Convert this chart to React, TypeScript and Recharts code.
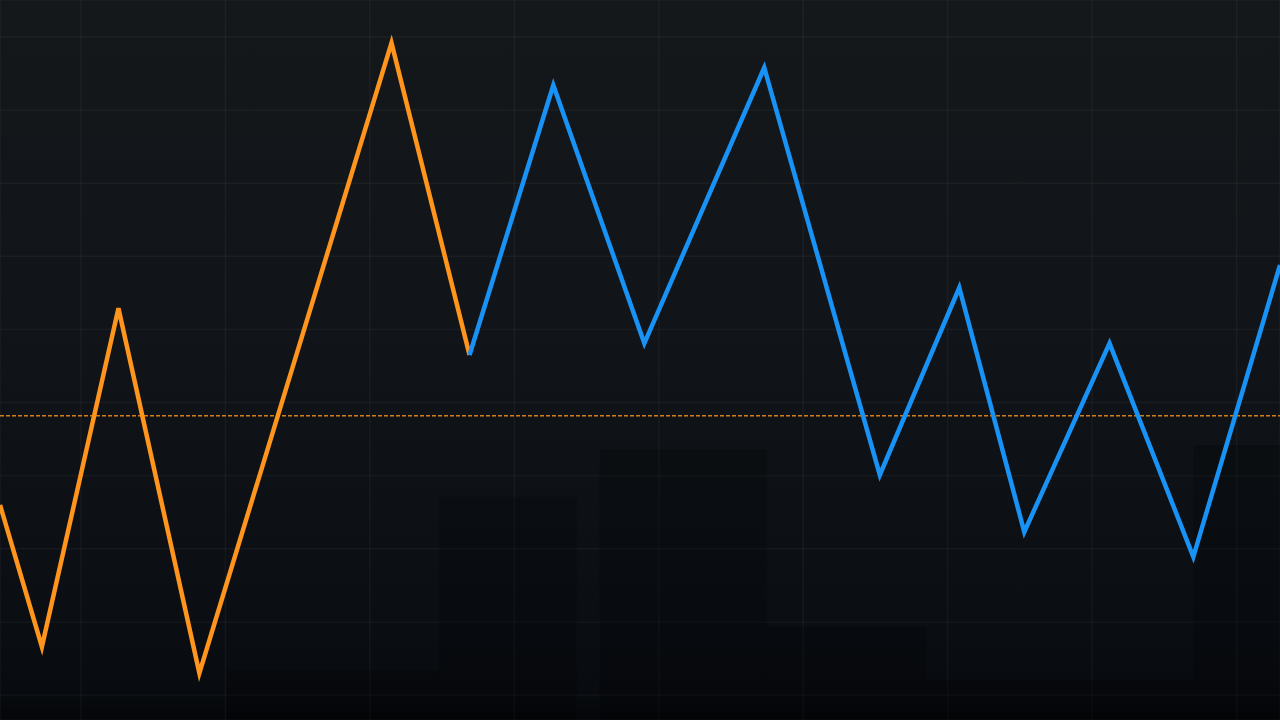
import {
  ComposedChart,
  Line,
  XAxis,
  YAxis,
  CartesianGrid,
  ReferenceLine,
  ReferenceArea,
} from "recharts";

// time positions (grid units) and prices
const times = [-0.56, -0.27, 0.26, 0.82, 2.15, 2.69, 3.27, 3.9, 4.73, 5.53, 6.08, 6.53, 7.12, 7.7, 8.3];
const prices = [126.0, 106.6, 152.9, 103.0, 189.2, 146.5, 183.4, 148.1, 185.8, 130.1, 155.7, 122.3, 148.1, 118.9, 158.8];
// index where the line turns from orange to blue
const splitIndex = 5;

const avgPrice = 138.2;

const xTicks = [0, 1, 2, 3, 4, 5, 6, 7, 8];
const yTicks = [100, 110, 120, 130, 140, 150, 160, 170, 180, 190];

// faint volume blocks behind the line
const volFrom = [1.01, 2.48, 3.59, 4.75, 5.85, 7.7];
const volTo = [2.48, 3.43, 4.75, 5.85, 7.7, 8.3];
const volTop = [103.4, 127.1, 133.6, 109.3, 102.1, 134.2];

const X_DOMAIN: [number, number] = [-0.56, 8.3];
const Y_DOMAIN: [number, number] = [96.58, 195.06];

const data = times.map((t, i) => ({
  t,
  orange: i <= splitIndex ? prices[i] : null,
  blue: i >= splitIndex ? prices[i] : null,
}));

export default function App() {
  return (
    <div
      style={{
        position: "absolute",
        left: 0,
        top: 0,
        width: 1280,
        height: 720,
        background:
          "linear-gradient(180deg, #14181b 0%, #111519 45%, #0b0f14 85%, #080b0f 96%, #040609 100%)",
        overflow: "hidden",
      }}
    >
      <ComposedChart width={1280} height={720} data={data} margin={{ top: 0, right: 0, bottom: 0, left: 0 }}>
        <XAxis dataKey="t" type="number" domain={X_DOMAIN} ticks={xTicks} hide allowDataOverflow />
        <YAxis type="number" domain={Y_DOMAIN} ticks={yTicks} hide allowDataOverflow />
        <CartesianGrid stroke="#ffffff" strokeOpacity={0.04} strokeWidth={1.5} />
        {volFrom.map((x1, i) => (
          <ReferenceArea
            key={i}
            x1={x1}
            x2={volTo[i]}
            y1={Y_DOMAIN[0]}
            y2={volTop[i]}
            fill="#000000"
            fillOpacity={0.22}
            stroke="none"
            ifOverflow="hidden"
          />
        ))}
        <ReferenceLine
          y={avgPrice}
          stroke="#e8891a"
          strokeOpacity={0.9}
          strokeWidth={1.5}
          strokeDasharray="4 2"
        />
        <Line
          type="linear"
          dataKey="orange"
          stroke="#ff951c"
          strokeWidth={4.5}
          dot={false}
          activeDot={false}
          connectNulls={false}
          isAnimationActive={false}
        />
        <Line
          type="linear"
          dataKey="blue"
          stroke="#1992f5"
          strokeWidth={4.5}
          dot={false}
          activeDot={false}
          connectNulls={false}
          isAnimationActive={false}
        />
      </ComposedChart>
    </div>
  );
}
